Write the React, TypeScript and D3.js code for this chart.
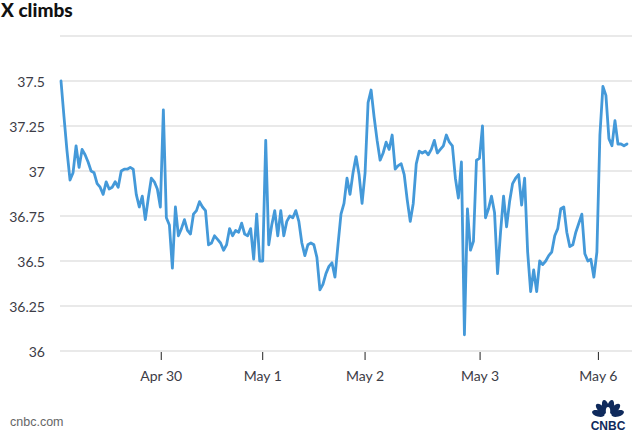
import React, { useEffect } from "react";
import * as d3 from "d3";

const title = "X climbs";
const source = "cnbc.com";

// sequential intraday samples (uniform spacing in trading time)
const values: number[] = [
  37.5, 37.3, 37.11, 36.95, 36.99, 37.14, 37.02, 37.12, 37.09, 37.05,
  37.0, 36.99, 36.93, 36.91, 36.87, 36.94, 36.9, 36.91, 36.94, 36.91,
  37.0, 37.01, 37.01, 37.02, 37.01, 36.87, 36.8, 36.86, 36.73, 36.85,
  36.96, 36.94, 36.9, 36.8, 37.34, 36.74, 36.7, 36.46, 36.8, 36.64,
  36.68, 36.73, 36.67, 36.65, 36.76, 36.78, 36.83, 36.8, 36.78, 36.59,
  36.6, 36.64, 36.62, 36.6, 36.56, 36.59, 36.68, 36.64, 36.67, 36.66,
  36.71, 36.65, 36.64, 36.68, 36.51, 36.76, 36.5, 36.5, 37.17, 36.59,
  36.7, 36.78, 36.64, 36.78, 36.64, 36.72, 36.75, 36.74, 36.78, 36.72,
  36.6, 36.53, 36.59, 36.6, 36.59, 36.52, 36.34, 36.37, 36.43, 36.47,
  36.49, 36.41, 36.59, 36.76, 36.82, 36.96, 36.87, 36.99, 37.08, 36.98,
  36.82, 36.99, 37.38, 37.45, 37.3, 37.17, 37.06, 37.1, 37.16, 37.12,
  37.2, 37.01, 37.03, 37.04, 36.98, 36.84, 36.72, 36.82, 37.04, 37.11,
  37.1, 37.11, 37.09, 37.12, 37.17, 37.1, 37.12, 37.14, 37.2, 37.16,
  37.14, 36.96, 36.85, 37.05, 36.09, 36.79, 36.56, 36.61, 37.06, 37.07,
  37.25, 36.74, 36.79, 36.86, 36.77, 36.43, 36.66, 36.86, 36.69, 36.83,
  36.93, 36.96, 36.98, 36.81, 36.96, 36.55, 36.33, 36.45, 36.33, 36.5,
  36.48, 36.5, 36.53, 36.55, 36.64, 36.68, 36.79, 36.8, 36.66, 36.58,
  36.59, 36.66, 36.71, 36.76, 36.54, 36.5, 36.51, 36.41, 36.55, 37.2,
  37.47, 37.42, 37.18, 37.14, 37.28, 37.15, 37.15, 37.14, 37.15,
];

const yTicks: number[] = [36, 36.25, 36.5, 36.75, 37, 37.25, 37.5, 37.75];
const yTickLabels: string[] = ["36", "36.25", "36.5", "36.75", "37", "37.25", "37.5", ""];
const xTickPos: number[] = [33.3, 67, 101, 139.2, 178.5];
const xTickLabels: string[] = ["Apr 30", "May 1", "May 2", "May 3", "May 6"];

const W = 632;
const H = 435;
const navy = "#0f2a5c";

export default function App() {
  useEffect(() => {
    document.body.style.margin = "0";
  }, []);

  const x = d3.scaleLinear().domain([0, values.length - 1]).range([61, 627]);
  const y = d3.scaleLinear().domain([36, 37.75]).range([351, 36]);
  const line = d3
    .line<number>()
    .x((_, i) => x(i))
    .y((d) => y(d));

  const font = "Lato, 'Open Sans', sans-serif";

  // peacock feathers
  const cx = 608;
  const cy = 416;
  const feathers = d3.range(6).map((k) => -75 + k * 30);

  return (
    <svg width={W} height={H} style={{ position: "absolute", left: 0, top: 0, background: "#fff" }}>
      <text x={1} y={17} fontFamily={font} fontWeight={900} fontSize={19} fill="#111">
        {title}
      </text>
      {yTicks.map((t, i) => (
        <g key={t}>
          <line x1={60} x2={632} y1={y(t)} y2={y(t)} stroke="#d3d3d3" strokeWidth={1.2} />
          {yTickLabels[i] && (
            <text
              x={45}
              y={y(t)}
              textAnchor="end"
              dominantBaseline="central"
              fontFamily={font}
              fontSize={14}
              fill="#3c3c46"
            >
              {yTickLabels[i]}
            </text>
          )}
        </g>
      ))}
      {xTickPos.map((p, i) => (
        <g key={p}>
          <line x1={x(p)} x2={x(p)} y1={352} y2={360} stroke="#222" strokeWidth={1} />
          <text x={x(p)} y={381} textAnchor="middle" fontFamily={font} fontSize={14} fill="#3c3c46">
            {xTickLabels[i]}
          </text>
        </g>
      ))}
      <path
        d={line(values) || ""}
        fill="none"
        stroke="#4499d9"
        strokeWidth={2.8}
        strokeLinejoin="round"
        strokeLinecap="round"
      />
      <text x={10} y={426} fontFamily="'Liberation Sans', Arial, sans-serif" fontSize={12.5} fill="#666">
        {source}
      </text>
      <g>
        {feathers.map((a) => (
          <ellipse
            key={a}
            cx={cx}
            cy={cy - 10}
            rx={3.2}
            ry={6.5}
            fill={navy}
            transform={`rotate(${a} ${cx} ${cy}) `}
          />
        ))}
        <ellipse cx={cx} cy={cy - 5} rx={2.2} ry={4} fill="#fff" />
        <text
          x={cx}
          y={430}
          textAnchor="middle"
          fontFamily="'Liberation Sans', Arial, sans-serif"
          fontWeight={700}
          fontSize={12}
          fill={navy}
        >
          CNBC
        </text>
      </g>
    </svg>
  );
}
